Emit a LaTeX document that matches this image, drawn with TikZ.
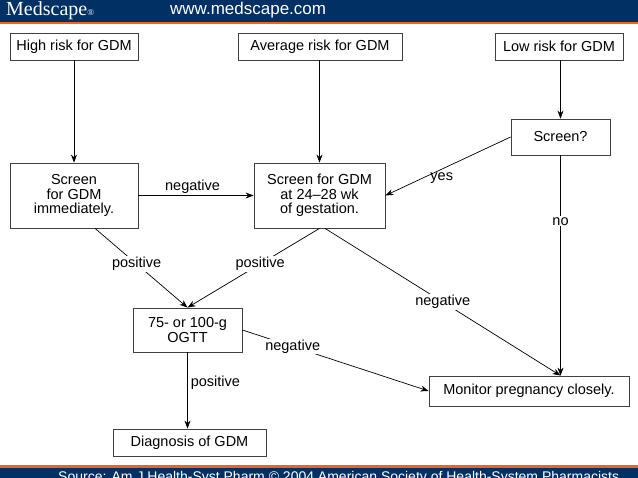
\documentclass[tikz,border=0pt]{standalone}
\usepackage{fontspec}
\setmainfont{Liberation Sans}
\newfontfamily\mserif{Liberation Serif}
\usetikzlibrary{arrows.meta}
\definecolor{mblue}{RGB}{0,48,100}
\definecolor{morange}{RGB}{240,100,20}
\begin{document}
\begin{tikzpicture}[x=1pt,y=-1pt,
 box/.style={draw=black!75,line width=0.8pt,align=center,font=\fontsize{14.5}{14.5}\selectfont,inner sep=0pt},
 lab/.style={font=\fontsize{14.5}{14.5}\selectfont,fill=white,inner sep=1pt},
 arr/.style={-{Stealth[length=8pt,width=6pt]},line width=0.7pt}]
\useasboundingbox (0,0) rectangle (638,478);
\fill[mblue] (0,0) rectangle (638,22);
\fill[morange] (0,22) rectangle (638,24.5);
\fill[morange] (0,465) rectangle (638,468);
\fill[mblue] (0,468) rectangle (638,478);
\node[white,font=\fontsize{20}{20}\selectfont\mserif,anchor=west,inner sep=0pt] (ms) at (6,11) {Medscape{\fontsize{9}{9}\selectfont\textregistered}};
\node[white,font=\fontsize{17}{17}\selectfont,anchor=west,inner sep=0pt] (url) at (170,10) {www.medscape.com};
\node[white,font=\fontsize{14}{14}\selectfont,anchor=west,inner sep=0pt] (src) at (58,478) {Source: Am J Health-Syst Pharm \textcopyright\ 2004 American Society of Health-System Pharmacists};
\node[box,minimum width=128,minimum height=27] (high) at (74,46.5) {High risk for GDM};
\node[box,minimum width=164,minimum height=27] (avg) at (320,46.5) {Average risk for GDM};
\node[box,minimum width=128,minimum height=27] (low) at (559,46.5) {Low risk for GDM};
\node[box,minimum width=99,minimum height=36] (scr) at (560.5,137) {Screen?};
\node[box,minimum width=128,minimum height=65] (imm) at (74,195.5) {Screen\\for GDM\\immediately.};
\node[box,minimum width=131,minimum height=65] (s24) at (319.5,195.5) {Screen for GDM\\at 24--28 wk\\of gestation.};
\node[box,minimum width=109,minimum height=44] (ogtt) at (187.5,330) {75- or 100-g\\OGTT};
\node[box,minimum width=200,minimum height=30] (mon) at (529,391) {Monitor pregnancy closely.};
\node[box,minimum width=153,minimum height=27] (diag) at (189.5,442.5) {Diagnosis of GDM};
\draw[arr] (high) -- (imm);
\draw[arr] (avg.south -| s24.north) -- (s24);
\draw[arr] (low.south -| scr.north) -- (scr);
\draw[arr] (scr.west) -- (s24.east) node[lab,pos=0.55,below=2pt,fill=none] {yes};
\draw[arr] (scr.south) -- (mon.north -| scr.south) node[lab,pos=0.3] {no};
\draw[arr] (imm) -- (s24) node[lab,pos=0.47,above=1pt,fill=none] {negative};
\draw[arr] (imm.south -| 95,0) -- (ogtt.north) node[lab,pos=0.45] {positive};
\draw[arr] (s24.south) -- (ogtt.north) node[lab,pos=0.45] {positive};
\draw[arr] (s24.south -| 325,0) -- (mon.north -| scr.south) node[lab,pos=0.5] {negative};
\draw[arr] (ogtt.east) -- (mon.west) node[lab,pos=0.27] {negative};
\draw[arr] (ogtt.south) -- (diag.north -| ogtt.south) node[lab,pos=0.4,right=2pt,fill=none] {positive};
\end{tikzpicture}
\end{document}
